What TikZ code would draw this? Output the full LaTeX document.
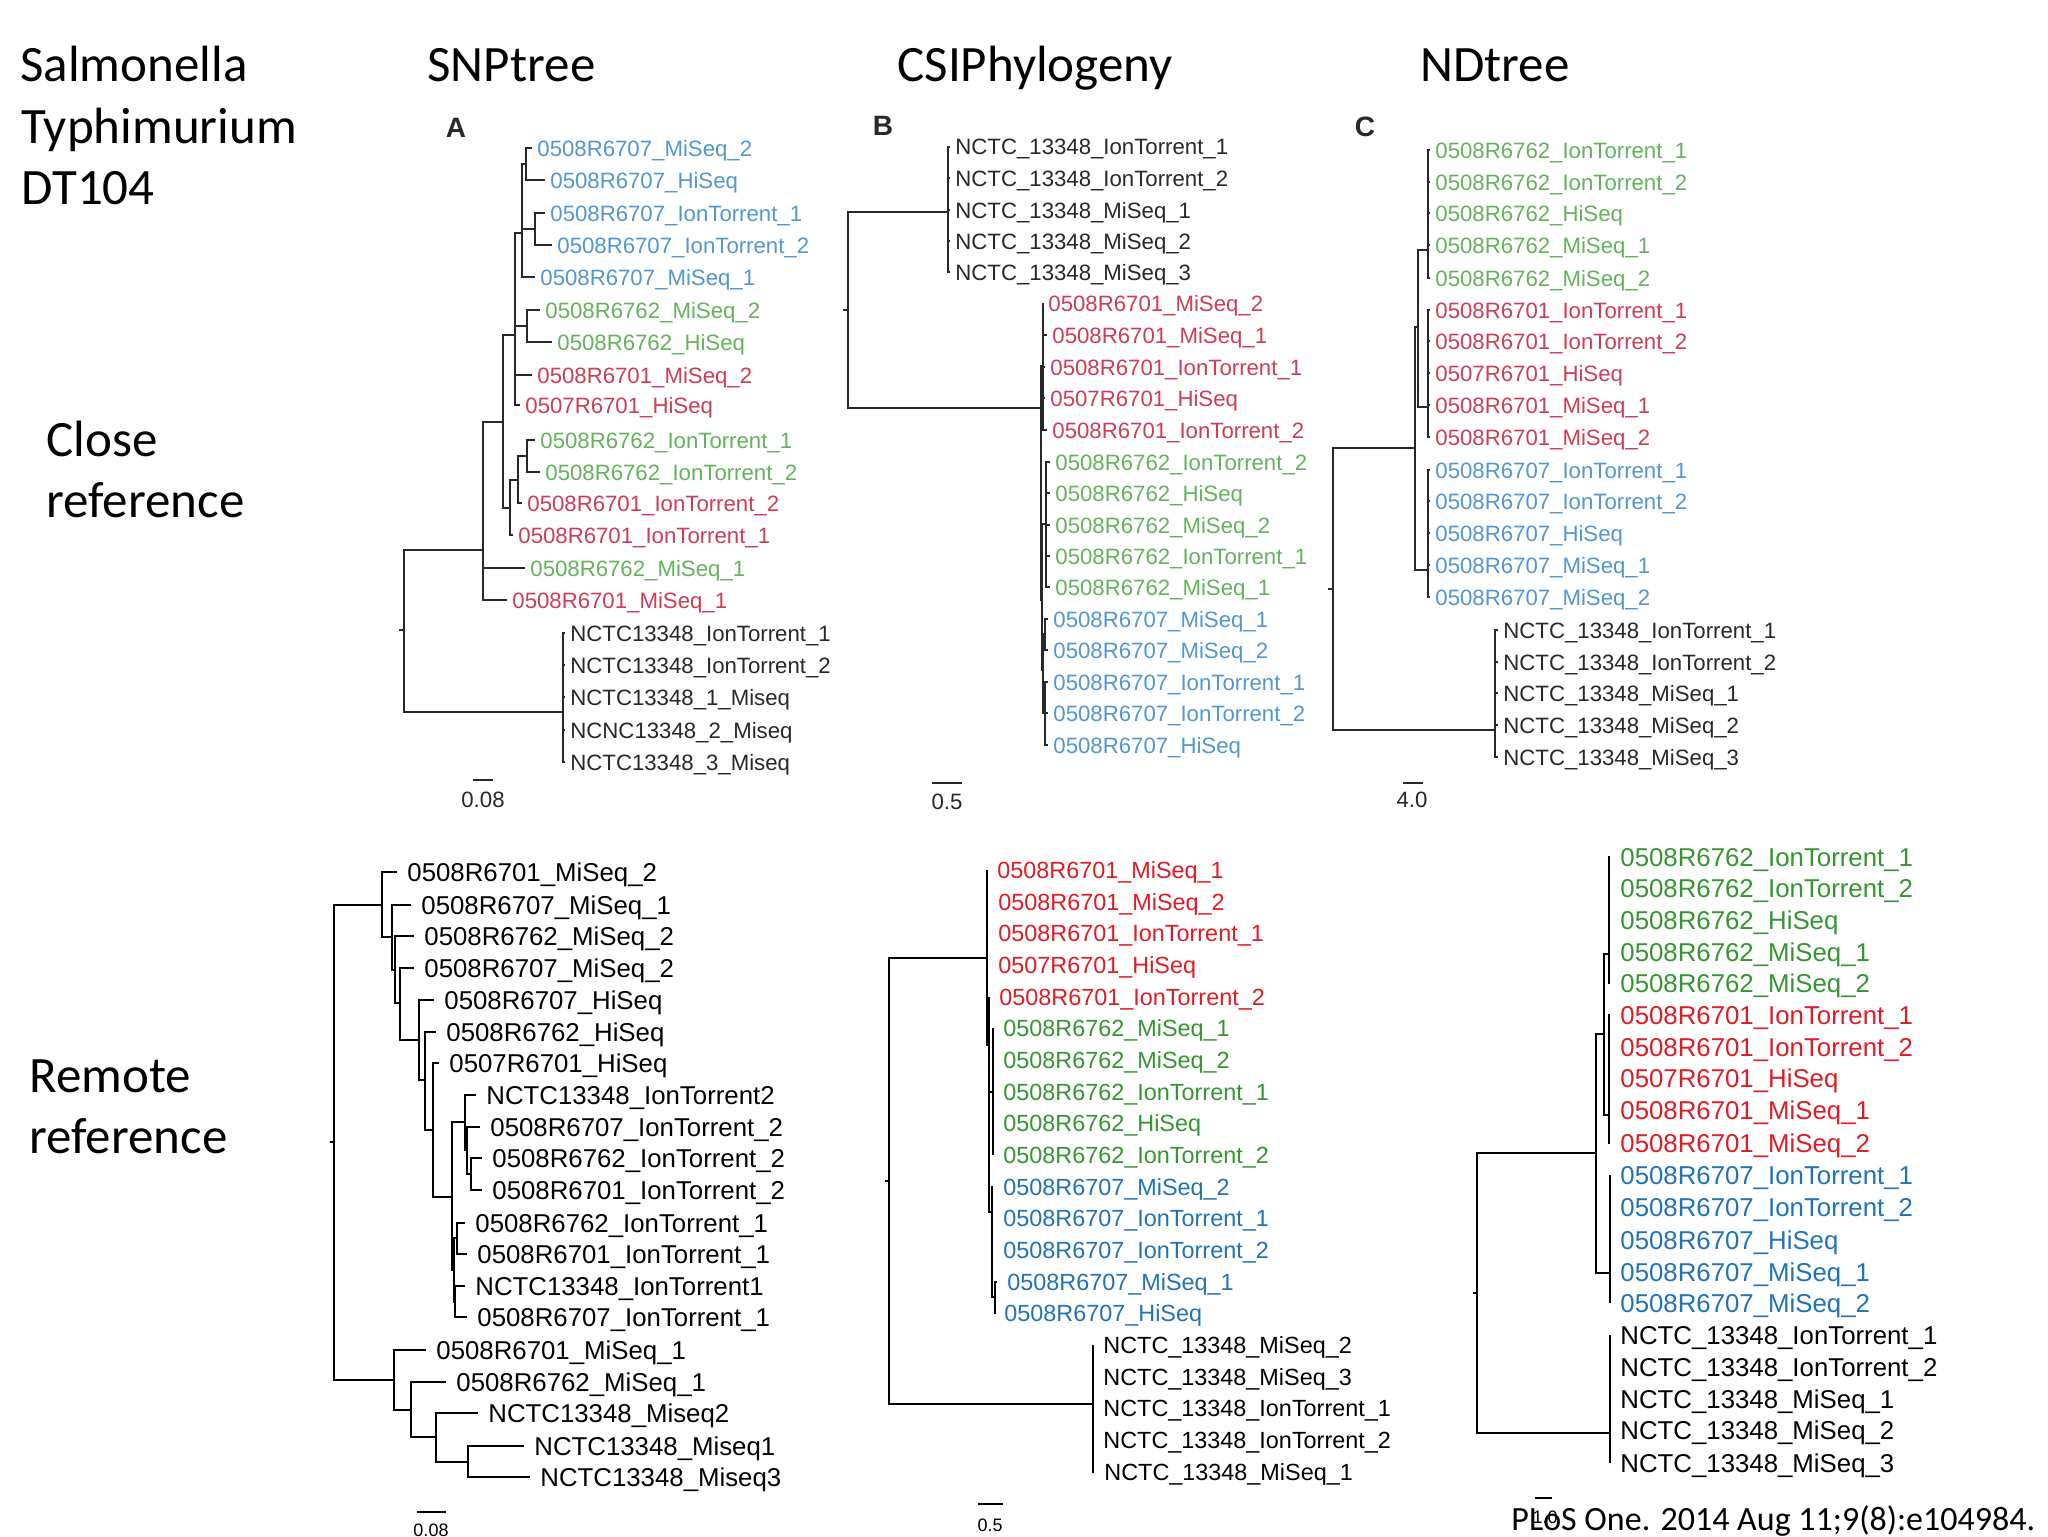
\documentclass[tikz,border=0pt]{standalone}
\usepackage{fontspec}
\setmainfont{Liberation Sans}
\newfontfamily\headfont{Carlito}
\usetikzlibrary{positioning}

\definecolor{tred}{RGB}{205,62,86}
\definecolor{tgreen}{RGB}{100,178,92}
\definecolor{tblue}{RGB}{82,152,204}
\definecolor{tblack}{RGB}{40,40,40}
\definecolor{bred}{RGB}{222,28,36}
\definecolor{bgreen}{RGB}{52,150,48}
\definecolor{bblue}{RGB}{32,115,180}

\begin{document}
\begin{tikzpicture}[x=0.5pt,y=-0.5pt,
    head/.style={anchor=base west,inner sep=0pt,font=\headfont\fontsize{25.5}{30}\selectfont},
    panel/.style={inner sep=0pt,font=\bfseries\fontsize{14}{16}\selectfont,tblack},
    toplbl/.style={anchor=west,inner xsep=2.5pt,inner ysep=0pt,text height=8pt,text depth=0pt,
        font=\fontsize{11.1}{13}\selectfont},
    botlbl/.style={anchor=west,inner xsep=5pt,inner ysep=0pt,text height=9.3pt,text depth=0pt,
        font=\fontsize{12.9}{15}\selectfont},
    midlbl/.style={anchor=west,inner xsep=5pt,inner ysep=0pt,text height=8.4pt,text depth=0pt,
        font=\fontsize{11.7}{14}\selectfont},
    topbr/.style={line width=1.3pt,tblack},
    botbr/.style={line width=0.85pt,black},
    topscl/.style={inner sep=0pt,font=\fontsize{11.1}{13}\selectfont,tblack},
    botscl/.style={inner sep=0pt,font=\fontsize{9}{11}\selectfont}]

    \fill[white] (0,0) rectangle (2048,1536);
    \useasboundingbox (0,0) rectangle (2048,1536);

    % headings
    \node[head] (t1) at (20,82) {Salmonella};
    \node[head] (t2) at (21,143) {Typhimurium};
    \node[head] (t3) at (21,204) {DT104};
    \node[head] (snp) at (427,82) {SNPtree};
    \node[head] (csi) at (897,82) {CSIPhylogeny};
    \node[head] (nd) at (1420,82) {NDtree};
    \node[head] (cl1) at (46,456) {Close};
    \node[head] (cl2) at (46,517) {reference};
    \node[head] (rm1) at (29,1092) {Remote};
    \node[head] (rm2) at (29,1153) {reference};

    % A: SNPtree, close reference
    \node[panel] (pA) at (456,128) {A};
    \node[toplbl,tblue] (a1) at (532,148) {0508R6707\_MiSeq\_2};
    \node[toplbl,tblue] (a2) at (545,180) {0508R6707\_HiSeq};
    \node[toplbl,tblue] (a3) at (545,213) {0508R6707\_IonTorrent\_1};
    \node[toplbl,tblue] (a4) at (552,245) {0508R6707\_IonTorrent\_2};
    \node[toplbl,tblue] (a5) at (535,277) {0508R6707\_MiSeq\_1};
    \node[toplbl,tgreen] (a6) at (540,310) {0508R6762\_MiSeq\_2};
    \node[toplbl,tgreen] (a7) at (552,342) {0508R6762\_HiSeq};
    \node[toplbl,tred] (a8) at (532,375) {0508R6701\_MiSeq\_2};
    \node[toplbl,tred] (a9) at (520,405) {0507R6701\_HiSeq};
    \node[toplbl,tgreen] (a10) at (535,440) {0508R6762\_IonTorrent\_1};
    \node[toplbl,tgreen] (a11) at (540,472) {0508R6762\_IonTorrent\_2};
    \node[toplbl,tred] (a12) at (522,503) {0508R6701\_IonTorrent\_2};
    \node[toplbl,tred] (a13) at (513,535) {0508R6701\_IonTorrent\_1};
    \node[toplbl,tgreen] (a14) at (525,568) {0508R6762\_MiSeq\_1};
    \node[toplbl,tred] (a15) at (507,600) {0508R6701\_MiSeq\_1};
    \node[toplbl,tblack] (a16) at (565,633) {NCTC13348\_IonTorrent\_1};
    \node[toplbl,tblack] (a17) at (565,665) {NCTC13348\_IonTorrent\_2};
    \node[toplbl,tblack] (a18) at (565,697) {NCTC13348\_1\_Miseq};
    \node[toplbl,tblack] (a19) at (565,730) {NCNC13348\_2\_Miseq};
    \node[toplbl,tblack] (a20) at (565,762) {NCTC13348\_3\_Miseq};

    \coordinate (An1) at (526,164);
    \coordinate (Ait) at (535,229);
    \coordinate (An2) at (522,233);
    \coordinate (Ag) at (527,326);
    \coordinate (An3) at (515,335);
    \coordinate (Agi) at (527,456);
    \coordinate (An4) at (518,480);
    \coordinate (An5) at (510,508);
    \coordinate (An6) at (503,422);
    \coordinate (An7) at (483,550);
    \coordinate (Anc) at (563,712);
    \coordinate (Aroot) at (404,630);

    \foreach \c in {a1,a2} \draw[topbr] (An1) |- (\c);
    \foreach \c in {a3,a4} \draw[topbr] (Ait) |- (\c);
    \foreach \c in {An1,Ait,a5} \draw[topbr] (An2) |- (\c);
    \foreach \c in {a6,a7} \draw[topbr] (Ag) |- (\c);
    \foreach \c in {An2,Ag,a8,a9} \draw[topbr] (An3) |- (\c);
    \foreach \c in {a10,a11} \draw[topbr] (Agi) |- (\c);
    \foreach \c in {Agi,a12} \draw[topbr] (An4) |- (\c);
    \foreach \c in {An4,a13} \draw[topbr] (An5) |- (\c);
    \foreach \c in {An3,An5} \draw[topbr] (An6) |- (\c);
    \foreach \c in {An6,a14,a15} \draw[topbr] (An7) |- (\c);
    \foreach \c in {a16,a17,a18,a19,a20} \draw[topbr] (Anc) |- (\c);
    \foreach \c in {An7,Anc} \draw[topbr] (Aroot) |- (\c);
    \draw[topbr] (Aroot) -- ++(-5,0);

    \draw[topbr] (473,780) -- (493,780);
    \node[topscl] (sA) at (483,800) {0.08};

    % B: CSIPhylogeny, close reference
    \node[panel] (pB) at (883,126) {B};
    \node[toplbl,tblack] (b1) at (950,147) {NCTC\_13348\_IonTorrent\_1};
    \node[toplbl,tblack] (b2) at (950,178) {NCTC\_13348\_IonTorrent\_2};
    \node[toplbl,tblack] (b3) at (950,210) {NCTC\_13348\_MiSeq\_1};
    \node[toplbl,tblack] (b4) at (950,241) {NCTC\_13348\_MiSeq\_2};
    \node[toplbl,tblack] (b5) at (950,272) {NCTC\_13348\_MiSeq\_3};
    \node[toplbl,tred] (b6) at (1043,303) {0508R6701\_MiSeq\_2};
    \node[toplbl,tred] (b7) at (1047,335) {0508R6701\_MiSeq\_1};
    \node[toplbl,tred] (b8) at (1045,367) {0508R6701\_IonTorrent\_1};
    \node[toplbl,tred] (b9) at (1045,398) {0507R6701\_HiSeq};
    \node[toplbl,tred] (b10) at (1047,430) {0508R6701\_IonTorrent\_2};
    \node[toplbl,tgreen] (b11) at (1050,462) {0508R6762\_IonTorrent\_2};
    \node[toplbl,tgreen] (b12) at (1050,493) {0508R6762\_HiSeq};
    \node[toplbl,tgreen] (b13) at (1050,525) {0508R6762\_MiSeq\_2};
    \node[toplbl,tgreen] (b14) at (1050,556) {0508R6762\_IonTorrent\_1};
    \node[toplbl,tgreen] (b15) at (1050,587) {0508R6762\_MiSeq\_1};
    \node[toplbl,tblue] (b16) at (1048,619) {0508R6707\_MiSeq\_1};
    \node[toplbl,tblue] (b17) at (1048,650) {0508R6707\_MiSeq\_2};
    \node[toplbl,tblue] (b18) at (1048,682) {0508R6707\_IonTorrent\_1};
    \node[toplbl,tblue] (b19) at (1048,713) {0508R6707\_IonTorrent\_2};
    \node[toplbl,tblue] (b20) at (1048,745) {0508R6707\_HiSeq};

    \coordinate (Bnc) at (948,212);
    \coordinate (Br) at (1043,366);
    \coordinate (Bg) at (1046,524);
    \coordinate (Bb1) at (1045,634);
    \coordinate (Bb2) at (1045,713);
    \coordinate (Bb) at (1043,670);
    \coordinate (Bgb) at (1042,600);
    \coordinate (Bin) at (1041,408);
    \coordinate (Broot) at (848,310);

    \foreach \c in {b1,b2,b3,b4,b5} \draw[topbr] (Bnc) |- (\c);
    \foreach \c in {b6,b7,b8,b9,b10} \draw[topbr] (Br) |- (\c);
    \foreach \c in {b11,b12,b13,b14,b15} \draw[topbr] (Bg) |- (\c);
    \foreach \c in {b16,b17} \draw[topbr] (Bb1) |- (\c);
    \foreach \c in {b18,b19,b20} \draw[topbr] (Bb2) |- (\c);
    \foreach \c in {Bb1,Bb2} \draw[topbr] (Bb) |- (\c);
    \foreach \c in {Bg,Bb} \draw[topbr] (Bgb) |- (\c);
    \foreach \c in {Br,Bgb} \draw[topbr] (Bin) |- (\c);
    \foreach \c in {Bnc,Bin} \draw[topbr] (Broot) |- (\c);
    \draw[topbr] (Broot) -- ++(-5,0);

    \draw[topbr] (932,783) -- (962,783);
    \node[topscl] (sB) at (947,802) {0.5};

    % C: NDtree, close reference
    \node[panel] (pC) at (1365,127) {C};
    \node[toplbl,tgreen] (c1) at (1430,150) {0508R6762\_IonTorrent\_1};
    \node[toplbl,tgreen] (c2) at (1430,182) {0508R6762\_IonTorrent\_2};
    \node[toplbl,tgreen] (c3) at (1430,213) {0508R6762\_HiSeq};
    \node[toplbl,tgreen] (c4) at (1430,245) {0508R6762\_MiSeq\_1};
    \node[toplbl,tgreen] (c5) at (1430,278) {0508R6762\_MiSeq\_2};
    \node[toplbl,tred] (c6) at (1430,310) {0508R6701\_IonTorrent\_1};
    \node[toplbl,tred] (c7) at (1430,341) {0508R6701\_IonTorrent\_2};
    \node[toplbl,tred] (c8) at (1430,373) {0507R6701\_HiSeq};
    \node[toplbl,tred] (c9) at (1430,405) {0508R6701\_MiSeq\_1};
    \node[toplbl,tred] (c10) at (1430,437) {0508R6701\_MiSeq\_2};
    \node[toplbl,tblue] (c11) at (1430,470) {0508R6707\_IonTorrent\_1};
    \node[toplbl,tblue] (c12) at (1430,501) {0508R6707\_IonTorrent\_2};
    \node[toplbl,tblue] (c13) at (1430,533) {0508R6707\_HiSeq};
    \node[toplbl,tblue] (c14) at (1430,565) {0508R6707\_MiSeq\_1};
    \node[toplbl,tblue] (c15) at (1430,597) {0508R6707\_MiSeq\_2};
    \node[toplbl,tblack] (c16) at (1498,630) {NCTC\_13348\_IonTorrent\_1};
    \node[toplbl,tblack] (c17) at (1498,662) {NCTC\_13348\_IonTorrent\_2};
    \node[toplbl,tblack] (c18) at (1498,693) {NCTC\_13348\_MiSeq\_1};
    \node[toplbl,tblack] (c19) at (1498,725) {NCTC\_13348\_MiSeq\_2};
    \node[toplbl,tblack] (c20) at (1498,757) {NCTC\_13348\_MiSeq\_3};

    \coordinate (Cg) at (1428,250);
    \coordinate (Cr) at (1428,407);
    \coordinate (Cgr) at (1418,327);
    \coordinate (Cb) at (1428,570);
    \coordinate (Cgrb) at (1415,448);
    \coordinate (Cnc) at (1495,730);
    \coordinate (Croot) at (1333,589);

    \foreach \c in {c1,c2,c3,c4,c5} \draw[topbr] (Cg) |- (\c);
    \foreach \c in {c6,c7,c8,c9,c10} \draw[topbr] (Cr) |- (\c);
    \foreach \c in {Cg,Cr} \draw[topbr] (Cgr) |- (\c);
    \foreach \c in {c11,c12,c13,c14,c15} \draw[topbr] (Cb) |- (\c);
    \foreach \c in {Cgr,Cb} \draw[topbr] (Cgrb) |- (\c);
    \foreach \c in {c16,c17,c18,c19,c20} \draw[topbr] (Cnc) |- (\c);
    \foreach \c in {Cgrb,Cnc} \draw[topbr] (Croot) |- (\c);
    \draw[topbr] (Croot) -- ++(-5,0);

    \draw[topbr] (1403,783) -- (1423,783);
    \node[topscl] (sC) at (1412,800) {4.0};

    % D: SNPtree, remote reference
    \node[botlbl] (d1) at (397,872) {0508R6701\_MiSeq\_2};
    \node[botlbl] (d2) at (411,905) {0508R6707\_MiSeq\_1};
    \node[botlbl] (d3) at (414,936) {0508R6762\_MiSeq\_2};
    \node[botlbl] (d4) at (414,968) {0508R6707\_MiSeq\_2};
    \node[botlbl] (d5) at (434,1000) {0508R6707\_HiSeq};
    \node[botlbl] (d6) at (436,1032) {0508R6762\_HiSeq};
    \node[botlbl] (d7) at (439,1063) {0507R6701\_HiSeq};
    \node[botlbl] (d8) at (476,1095) {NCTC13348\_IonTorrent2};
    \node[botlbl] (d9) at (480,1127) {0508R6707\_IonTorrent\_2};
    \node[botlbl] (d10) at (482,1158) {0508R6762\_IonTorrent\_2};
    \node[botlbl] (d11) at (482,1190) {0508R6701\_IonTorrent\_2};
    \node[botlbl] (d12) at (465,1223) {0508R6762\_IonTorrent\_1};
    \node[botlbl] (d13) at (467,1254) {0508R6701\_IonTorrent\_1};
    \node[botlbl] (d14) at (465,1286) {NCTC13348\_IonTorrent1};
    \node[botlbl] (d15) at (467,1317) {0508R6707\_IonTorrent\_1};
    \node[botlbl] (d16) at (426,1350) {0508R6701\_MiSeq\_1};
    \node[botlbl] (d17) at (446,1382) {0508R6762\_MiSeq\_1};
    \node[botlbl] (d18) at (478,1413) {NCTC13348\_Miseq2};
    \node[botlbl] (d19) at (524,1446) {NCTC13348\_Miseq1};
    \node[botlbl] (d20) at (530,1477) {NCTC13348\_Miseq3};

    \coordinate (D1) at (382,905);
    \coordinate (D2) at (392,937);
    \coordinate (D3) at (395,970);
    \coordinate (D4) at (400,1003);
    \coordinate (D5) at (419,1040);
    \coordinate (D6) at (425,1080);
    \coordinate (D7) at (433,1130);
    \coordinate (D8) at (452,1197);
    \coordinate (D9) at (465,1122);
    \coordinate (D10) at (467,1150);
    \coordinate (D11) at (471,1174);
    \coordinate (D12) at (454,1270);
    \coordinate (D13) at (457,1238);
    \coordinate (D14) at (455,1302);
    \coordinate (Db1) at (394,1380);
    \coordinate (Db2) at (411,1410);
    \coordinate (Db3) at (436,1437);
    \coordinate (Db4) at (468,1462);
    \coordinate (Droot) at (334,1142);

    \foreach \c in {d1,D2} \draw[botbr] (D1) |- (\c);
    \foreach \c in {d2,D3} \draw[botbr] (D2) |- (\c);
    \foreach \c in {d3,D4} \draw[botbr] (D3) |- (\c);
    \foreach \c in {d4,D5} \draw[botbr] (D4) |- (\c);
    \foreach \c in {d5,D6} \draw[botbr] (D5) |- (\c);
    \foreach \c in {d6,D7} \draw[botbr] (D6) |- (\c);
    \foreach \c in {d7,D8} \draw[botbr] (D7) |- (\c);
    \foreach \c in {D9,D12} \draw[botbr] (D8) |- (\c);
    \foreach \c in {d8,D10} \draw[botbr] (D9) |- (\c);
    \foreach \c in {d9,D11} \draw[botbr] (D10) |- (\c);
    \foreach \c in {d10,d11} \draw[botbr] (D11) |- (\c);
    \foreach \c in {D13,D14} \draw[botbr] (D12) |- (\c);
    \foreach \c in {d12,d13} \draw[botbr] (D13) |- (\c);
    \foreach \c in {d14,d15} \draw[botbr] (D14) |- (\c);
    \foreach \c in {d16,Db2} \draw[botbr] (Db1) |- (\c);
    \foreach \c in {d17,Db3} \draw[botbr] (Db2) |- (\c);
    \foreach \c in {d18,Db4} \draw[botbr] (Db3) |- (\c);
    \foreach \c in {d19,d20} \draw[botbr] (Db4) |- (\c);
    \foreach \c in {D1,Db1} \draw[botbr] (Droot) |- (\c);
    \draw[botbr] (Droot) -- ++(-4,0);

    \draw[botbr] (417,1512) -- (446,1512);
    \node[botscl,anchor=north] (sD) at (431,1524) {0.08};

    % E: CSIPhylogeny, remote reference
    \node[midlbl,bred] (e1) at (987,870) {0508R6701\_MiSeq\_1};
    \node[midlbl,bred] (e2) at (988,902) {0508R6701\_MiSeq\_2};
    \node[midlbl,bred] (e3) at (988,933) {0508R6701\_IonTorrent\_1};
    \node[midlbl,bred] (e4) at (988,965) {0507R6701\_HiSeq};
    \node[midlbl,bred] (e5) at (989,997) {0508R6701\_IonTorrent\_2};
    \node[midlbl,bgreen] (e6) at (993,1028) {0508R6762\_MiSeq\_1};
    \node[midlbl,bgreen] (e7) at (993,1060) {0508R6762\_MiSeq\_2};
    \node[midlbl,bgreen] (e8) at (993,1092) {0508R6762\_IonTorrent\_1};
    \node[midlbl,bgreen] (e9) at (993,1123) {0508R6762\_HiSeq};
    \node[midlbl,bgreen] (e10) at (993,1155) {0508R6762\_IonTorrent\_2};
    \node[midlbl,bblue] (e11) at (993,1187) {0508R6707\_MiSeq\_2};
    \node[midlbl,bblue] (e12) at (993,1218) {0508R6707\_IonTorrent\_1};
    \node[midlbl,bblue] (e13) at (993,1250) {0508R6707\_IonTorrent\_2};
    \node[midlbl,bblue] (e14) at (997,1282) {0508R6707\_MiSeq\_1};
    \node[midlbl,bblue] (e15) at (994,1313) {0508R6707\_HiSeq};
    \node[midlbl] (e16) at (1093,1345) {NCTC\_13348\_MiSeq\_2};
    \node[midlbl] (e17) at (1093,1377) {NCTC\_13348\_MiSeq\_3};
    \node[midlbl] (e18) at (1093,1408) {NCTC\_13348\_IonTorrent\_1};
    \node[midlbl] (e19) at (1093,1440) {NCTC\_13348\_IonTorrent\_2};
    \node[midlbl] (e20) at (1094,1472) {NCTC\_13348\_MiSeq\_1};

    \coordinate (Ein) at (987,958);
    \coordinate (Egb) at (989,1045);
    \coordinate (Eg) at (993,1092);
    \coordinate (Eb) at (992,1212);
    \coordinate (Eb2) at (995,1297);
    \coordinate (Enc) at (1093,1404);
    \coordinate (Eroot) at (889,1181);

    \foreach \c in {e1,e2,e3,e4,Egb} \draw[botbr] (Ein) |- (\c);
    \foreach \c in {e5,Eg,Eb} \draw[botbr] (Egb) |- (\c);
    \foreach \c in {e6,e7,e8,e9,e10} \draw[botbr] (Eg) |- (\c);
    \foreach \c in {e11,e12,e13,Eb2} \draw[botbr] (Eb) |- (\c);
    \foreach \c in {e14,e15} \draw[botbr] (Eb2) |- (\c);
    \foreach \c in {e16,e17,e18,e19,e20} \draw[botbr] (Enc) |- (\c);
    \foreach \c in {Ein,Enc} \draw[botbr] (Eroot) |- (\c);
    \draw[botbr] (Eroot) -- ++(-4,0);

    \draw[botbr] (978,1504) -- (1003,1504);
    \node[botscl] (sE) at (990,1525) {0.5};

    % F: NDtree, remote reference
    \node[botlbl,bgreen] (f1) at (1610,857) {0508R6762\_IonTorrent\_1};
    \node[botlbl,bgreen] (f2) at (1610,888) {0508R6762\_IonTorrent\_2};
    \node[botlbl,bgreen] (f3) at (1610,920) {0508R6762\_HiSeq};
    \node[botlbl,bgreen] (f4) at (1610,952) {0508R6762\_MiSeq\_1};
    \node[botlbl,bgreen] (f5) at (1610,983) {0508R6762\_MiSeq\_2};
    \node[botlbl,bred] (f6) at (1610,1015) {0508R6701\_IonTorrent\_1};
    \node[botlbl,bred] (f7) at (1610,1047) {0508R6701\_IonTorrent\_2};
    \node[botlbl,bred] (f8) at (1610,1078) {0507R6701\_HiSeq};
    \node[botlbl,bred] (f9) at (1610,1110) {0508R6701\_MiSeq\_1};
    \node[botlbl,bred] (f10) at (1610,1143) {0508R6701\_MiSeq\_2};
    \node[botlbl,bblue] (f11) at (1610,1175) {0508R6707\_IonTorrent\_1};
    \node[botlbl,bblue] (f12) at (1610,1207) {0508R6707\_IonTorrent\_2};
    \node[botlbl,bblue] (f13) at (1610,1240) {0508R6707\_HiSeq};
    \node[botlbl,bblue] (f14) at (1610,1272) {0508R6707\_MiSeq\_1};
    \node[botlbl,bblue] (f15) at (1610,1303) {0508R6707\_MiSeq\_2};
    \node[botlbl] (f16) at (1610,1335) {NCTC\_13348\_IonTorrent\_1};
    \node[botlbl] (f17) at (1610,1367) {NCTC\_13348\_IonTorrent\_2};
    \node[botlbl] (f18) at (1610,1399) {NCTC\_13348\_MiSeq\_1};
    \node[botlbl] (f19) at (1610,1430) {NCTC\_13348\_MiSeq\_2};
    \node[botlbl] (f20) at (1610,1463) {NCTC\_13348\_MiSeq\_3};

    \coordinate (Fg) at (1609,954);
    \coordinate (Fr) at (1609,1115);
    \coordinate (Fgr) at (1604,1034);
    \coordinate (Fb) at (1610,1273);
    \coordinate (Fgrb) at (1596,1153);
    \coordinate (Fnc) at (1610,1433);
    \coordinate (Froot) at (1477,1293);

    \foreach \c in {f1,f2,f3,f4,f5} \draw[botbr] (Fg) |- (\c);
    \foreach \c in {f6,f7,f8,f9,f10} \draw[botbr] (Fr) |- (\c);
    \foreach \c in {Fg,Fr} \draw[botbr] (Fgr) |- (\c);
    \foreach \c in {f11,f12,f13,f14,f15} \draw[botbr] (Fb) |- (\c);
    \foreach \c in {Fgr,Fb} \draw[botbr] (Fgrb) |- (\c);
    \foreach \c in {f16,f17,f18,f19,f20} \draw[botbr] (Fnc) |- (\c);
    \foreach \c in {Fgrb,Fnc} \draw[botbr] (Froot) |- (\c);
    \draw[botbr] (Froot) -- ++(-4,0);

    \node[anchor=base west,inner sep=0pt,font=\headfont\fontsize{17}{20}\selectfont] (cite)
        at (1511,1530) {PLoS One. 2014 Aug 11;9(8):e104984.};
    \draw[botbr] (1535,1498) -- (1552,1498);
    \node[botscl] (sF) at (1545,1517) {1.0};
\end{tikzpicture}
\end{document}
